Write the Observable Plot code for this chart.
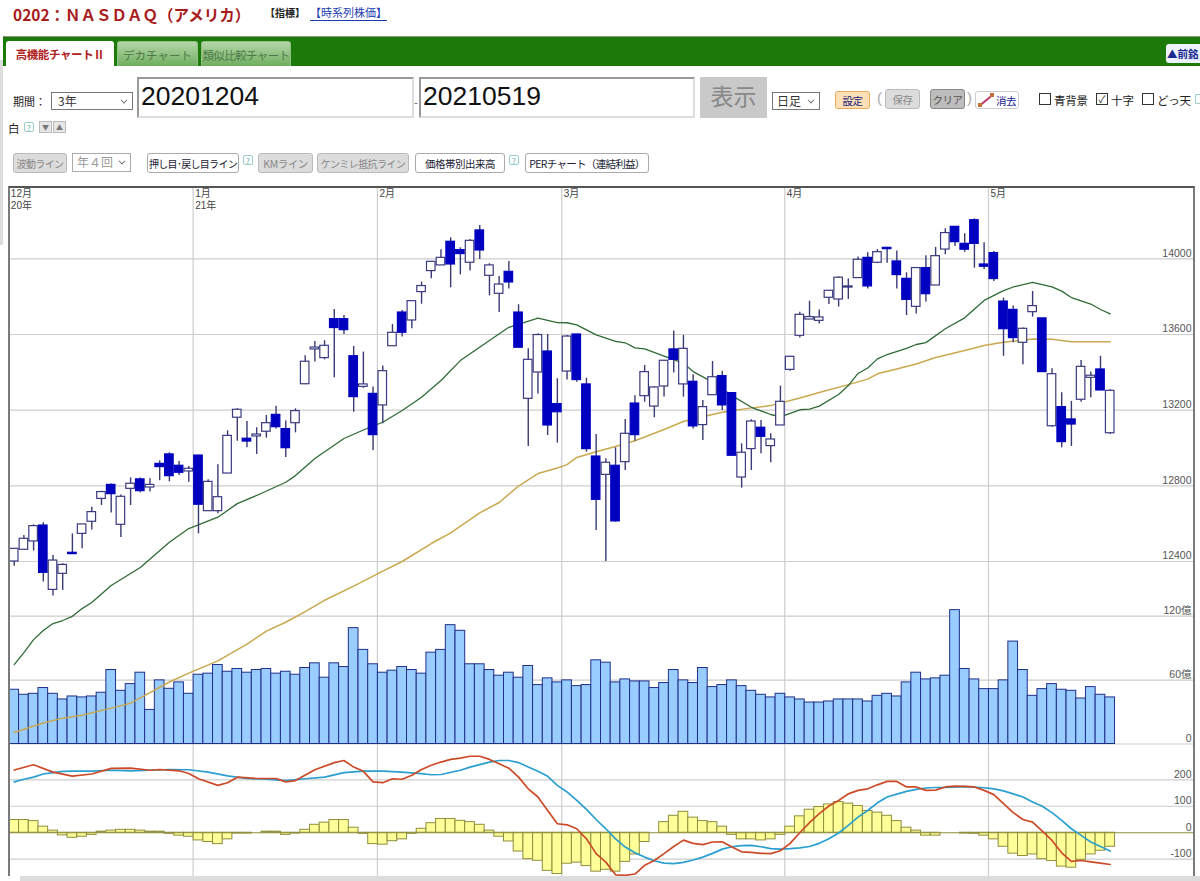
<!DOCTYPE html>
<html lang="ja">
<head>
<meta charset="utf-8">
<script src="https://cdn.jsdelivr.net/npm/d3@7"></script>
<script src="https://cdn.jsdelivr.net/npm/@observablehq/plot@0.6"></script>
<style>
html,body{margin:0;padding:0;background:#fff;width:1200px;height:881px;overflow:hidden;font-family:"Noto Sans CJK JP","Noto Sans",sans-serif;color:#222}
.a{position:absolute;white-space:nowrap;box-sizing:border-box}
.btn{display:flex;align-items:center;justify-content:center;font-size:10.5px;letter-spacing:-.5px;border:1px solid #aaa;border-radius:3px;height:20px;top:153px;background:#fff;color:#223}
.off{background:#dcdcdc;color:#888;border-color:#bbb}
.sel{border:1px solid #777;background:#fff;font-size:12px;line-height:16px;padding-left:6px;color:#333;height:18px}
.sel i{position:absolute;right:5px;top:4px;width:5px;height:5px;border-right:1px solid #666;border-bottom:1px solid #666;transform:rotate(45deg) scale(.8)}
.inp{top:77px;height:41px;border:2px solid;border-color:#999 #ddd #ddd #999;font-family:"Liberation Sans",sans-serif;font-size:26.5px;line-height:35px;color:#111;padding-left:2px;background:#fff}
.chk{width:12px;height:12px;border:1px solid #333;top:93px;font-size:10px;line-height:10px;text-align:center}
.lab{top:92px;font-size:11.5px;line-height:17px;color:#222}
.help{width:10px;height:10px;border:1px solid #9cc;color:#6aa;font-size:8px;line-height:10px;text-align:center;border-radius:2px}
.tab{top:41px;height:25px;font-size:11.5px;line-height:26px;text-align:center;border-radius:3px 3px 0 0}
.gtab{background:linear-gradient(#b5d6a8,#6fae5f);color:#4d7a48;border:1px solid #8fbf82;border-bottom:none}
#frame{position:absolute;left:8px;top:186px;width:1187px;height:690px;border:2px solid #7a7a7a;border-bottom:none;border-top-color:#555;pointer-events:none;box-sizing:border-box}
.layer{position:absolute;left:0}
</style>
</head>
<body>
<div class="a" style="left:0;top:60px;width:3px;height:185px;background:#ddd"></div>
<div class="a" style="left:13px;top:3px;font-size:15.5px;font-weight:700;color:#a81c1c;line-height:22px">0202：ＮＡＳＤＡＱ（アメリカ）</div>
<div class="a" style="left:265px;top:5px;font-size:10px;font-weight:700;line-height:16px">【指標】</div>
<div class="a" style="left:310px;top:5px;font-size:11px;color:#1a3bb0;line-height:15px;border-bottom:1px solid #1a3bb0">【時系列株価】</div>

<div class="a" style="left:3px;top:36px;width:1197px;height:30px;background:#1c7a0a;border-top:1px solid #8a9a80"></div>
<div class="a tab" style="left:6px;width:108px;background:#fff;color:#b02020;font-weight:700;letter-spacing:-.4px">高機能チャートⅡ</div>
<div class="a tab gtab" style="left:117px;width:81px">デカチャート</div>
<div class="a tab gtab" style="left:201px;width:90px;letter-spacing:-.6px">類似比較チャート</div>
<div class="a" style="left:1166px;top:44px;width:34px;height:19px;background:#eef3ff;border-radius:3px 0 0 3px;font-size:10.5px;line-height:19px;color:#1a2a90;font-weight:700;padding-left:1px">▲前銘</div>

<div class="a" style="left:13px;top:92px;font-size:11px;line-height:18px">期間：</div>
<div class="a sel" style="left:51px;top:92px;width:82px">3年<i></i></div>
<div class="a inp" style="left:137px;width:277px">20201204</div>
<div class="a" style="left:414px;top:96px;font-size:11px;line-height:12px;color:#555">-</div>
<div class="a inp" style="left:419px;width:276px">20210519</div>
<div class="a" style="left:700px;top:77px;width:67px;height:41px;background:#c9c9c9;color:#888;font-size:23px;line-height:37px;text-align:center">表示</div>
<div class="a sel" style="left:772px;top:92px;width:48px;padding-left:4px">日足<i></i></div>
<div class="a btn" style="left:835px;top:91px;width:35px;height:18px;background:#fde0b4;border-color:#e8a860;color:#1a1a80">設定</div>
<div class="a" style="left:877px;top:88px;font-size:15px;line-height:20px;color:#aaa;font-family:'Liberation Sans',sans-serif">(</div>
<div class="a btn off" style="left:885px;top:89px;width:35px">保存</div>
<div class="a btn" style="left:930px;top:89px;width:35px;background:#bdbdbd;color:#555;border-color:#888">クリア</div>
<div class="a" style="left:967px;top:88px;font-size:15px;line-height:20px;color:#aaa;font-family:'Liberation Sans',sans-serif">)</div>
<div class="a btn" style="left:975px;top:91px;width:44px;height:18px;justify-content:flex-end;padding-right:2px;color:#1a1a90;border-color:#ccc">消去</div>
<div class="a" style="left:979px;top:99px;width:15px;height:2px;background:#b83a6a;transform:rotate(-40deg)"></div>
<div class="a" style="left:978px;top:103px;width:4px;height:4px;background:#c8703a"></div>
<div class="a" style="left:990px;top:93px;width:4px;height:4px;background:#c8703a"></div>
<div class="a chk" style="left:1039px"></div><div class="a lab" style="left:1054px;letter-spacing:-.3px">青背景</div>
<div class="a chk" style="left:1096px">✓</div><div class="a lab" style="left:1111px">十字</div>
<div class="a chk" style="left:1142px"></div><div class="a lab" style="left:1157px;letter-spacing:-.3px">どっ天</div>
<div class="a" style="left:1195px;top:94px;width:5px;height:10px;border:1px solid #9cc;border-right:none;border-radius:2px 0 0 2px"></div>

<div class="a" style="left:8px;top:120px;font-size:11.5px;line-height:17px">白</div>
<div class="a help" style="left:24px;top:122px">?</div>
<div class="a off" style="left:39px;top:121px;width:13px;height:12px;border:1px solid #bbb;font-size:7px;line-height:10px;text-align:center;color:#777;background:#e6e6e6">▼</div>
<div class="a off" style="left:53px;top:121px;width:13px;height:12px;border:1px solid #bbb;font-size:7px;line-height:10px;text-align:center;color:#777;background:#e6e6e6">▲</div>

<div class="a btn off" style="left:13px;width:54px;font-size:10px;letter-spacing:-.6px">波動ライン</div>
<div class="a sel" style="left:72px;top:153px;width:59px;height:19px;color:#999;border-color:#aaa;padding-left:4px">年４回<i></i></div>
<div class="a btn" style="left:147px;width:92px;font-size:10px;letter-spacing:-.7px">押し目･戻し目ライン</div>
<div class="a help" style="left:243px;top:155px">?</div>
<div class="a btn off" style="left:258px;width:55px">KMライン</div>
<div class="a btn off" style="left:317px;width:92px;font-size:10px;letter-spacing:-.6px">ケンミレ抵抗ライン</div>
<div class="a btn" style="left:415px;width:90px">価格帯別出来高</div>
<div class="a help" style="left:509px;top:155px">?</div>
<div class="a btn" style="left:525px;width:124px;letter-spacing:-.7px">PERチャート（連結利益）</div>

<div id="chart"></div>
<div id="frame"></div>
<div class="a" style="left:20px;top:876px;width:1180px;height:5px;background:#dcdcdc"></div>

<script>
// ---- candlesticks (price points) ----
const opens = [12400,12462,12506,12590,12250,12335,12446,12546,12610,12731,12805,12594,12784,12834,12791,12916,12966,12906,12876,12960,12666,12666,12865,13160,13049,13061,13086,13175,13100,13131,
13337,13521,13475,13681,13681,13485,13323,13286,13225,13538,13716,13674,13824,13935,13965,14090,14046,13979,14150,13910,13815,13931,13716,13260,13399,13510,13232,13404,13600,13336,
12955,12858,12906,12925,13235,13274,13219,13325,13521,13336,13350,13121,13279,13380,13290,12844,12994,13107,13010,13119,13413,13593,13679,13672,13794,13785,13848,13898,14005,13979,
14058,13986,13894,13746,13951,13859,14049,14169,14079,14204,13970,14030,13774,13730,13556,13718,13685,13115,13216,13151,13255,13371,13415,13078];
const closes = [12467,12520,12587,12340,12405,12382,12439,12596,12661,12767,12756,12742,12811,12772,12805,12899,12851,12869,12890,12700,12821,12740,13064,13202,13034,13071,13131,13110,12999,13195,
13456,13531,13540,13634,13623,13269,13336,13068,13406,13609,13609,13776,13856,13984,14005,13970,14025,14095,14044,13965,13864,13875,13530,13466,13597,13119,13189,13589,13359,12994,
12726,12922,12612,13075,13068,13401,13320,13461,13466,13524,13114,13216,13374,13225,12959,12975,13140,13059,13045,13244,13482,13704,13692,13690,13831,13900,13854,13995,13854,14035,
14051,13914,13783,13951,13813,14014,14136,14088,14048,14079,13958,13893,13628,13581,13630,13750,13401,13390,13031,13124,13429,13382,13304,13302];
const highs = [12467,12538,12594,12605,12432,12388,12546,12596,12687,12771,12810,12752,12842,12841,12837,12932,12975,12929,12902,12960,12832,12911,13091,13207,13140,13107,13172,13221,13142,13207,
13487,13563,13567,13732,13700,13537,13507,13322,13433,13653,13727,13776,13877,13984,14048,14111,14058,14102,14176,13974,13907,13986,13757,13524,13604,13600,13366,13595,13600,13369,
13071,12943,13001,13151,13276,13436,13325,13461,13619,13595,13387,13251,13457,13406,13290,13022,13149,13145,13075,13327,13485,13718,13776,13730,13831,13905,13894,14009,14032,14049,
14058,14041,13926,13954,14016,14060,14159,14169,14132,14211,14085,14039,13792,13750,13634,13827,13685,13419,13292,13246,13463,13401,13485,13308];
const lows = [12375,12462,12455,12291,12217,12247,12439,12467,12567,12696,12656,12527,12696,12763,12767,12827,12821,12855,12819,12546,12666,12652,12865,13036,13001,12966,13052,13101,12950,13080,
13334,13454,13466,13371,13600,13189,13315,12987,13128,13537,13586,13630,13760,13894,13965,13847,13915,13935,13996,13804,13716,13840,13530,13008,13286,13066,13026,13360,13348,12978,
12564,12400,12608,12881,13036,13242,13160,13269,13396,13269,13101,13040,13279,13198,12959,12788,12881,12969,12922,13119,13406,13581,13679,13656,13759,13745,13785,13898,13841,13974,
13977,13841,13700,13708,13771,13859,14021,14065,14035,13951,13944,13880,13485,13556,13440,13692,13401,13110,13001,13008,13242,13265,13304,13071];

// ---- moving averages: [session index, price] readings ----
const ma25Index = [0,1,2,3,4,5,6,7,8,10,13,16,18,21,23,25,28,29,31,34,36,38,40,42,44,46,49,51,54,56,57,58,59,60,62,63,64,65,67,69,70,72,74,76,78,79,81,82,83,85,86,87,88,89,90,92,93,94,96,98,100,102,103,105,107,108,109,111,112,113];
const ma25Value = [11855,11918,11987,12035,12072,12088,12110,12151,12183,12273,12368,12502,12574,12634,12706,12749,12819,12854,12944,13050,13095,13136,13198,13268,13357,13462,13568,13638,13686,13663,13662,13651,13624,13598,13564,13556,13529,13524,13485,13448,13404,13348,13277,13215,13177,13165,13202,13205,13221,13283,13330,13394,13423,13471,13494,13527,13547,13557,13630,13688,13780,13832,13851,13875,13852,13829,13795,13761,13732,13709];
const ma75Index = [0,3,5,7,10,12,14,16,18,21,24,26,28,30,32,35,37,38,40,43,45,48,50,52,54,56,57,58,60,62,64,67,69,71,73,76,78,81,83,86,88,89,91,93,95,98,100,102,105,107,109,111,113];
const ma75Value = [11496,11546,11572,11587,11625,11651,11707,11763,11810,11875,11963,12032,12079,12135,12195,12270,12323,12349,12400,12495,12551,12657,12712,12799,12865,12894,12912,12950,12980,13008,13038,13098,13140,13165,13189,13212,13224,13264,13293,13335,13364,13392,13418,13444,13478,13515,13542,13559,13576,13575,13562,13561,13561];

// ---- volume (億) ----
const volume = [50.9,46.2,47.1,52.5,47.1,41.8,44.6,43.7,44.6,48.1,69.4,49.9,56.2,66.9,32,59.7,51.8,57.8,47.1,65,66,74.1,67.8,70.4,66.9,69.4,70.4,66,67.8,65,
71.3,75.7,62.2,75.7,72.2,108.7,88.3,74.8,66.9,68.8,72.2,69.4,66,85.7,88.3,111.5,106.2,74.8,74.8,69.4,64.1,66.9,62.2,73.2,55.3,61.6,57.8,59.7,54.3,55.3,
78.5,76.3,57.8,60.6,58.7,58.7,52.5,57.2,69.4,59.7,57.2,71.3,53.4,55.3,59.7,54.3,49.9,46.2,43.7,47.1,43.7,41.8,38.9,38.9,39.9,41.8,41.8,41.8,39.9,45.2,
47.1,44.6,57.8,66.9,60.6,61.6,64.1,125.6,70.4,60.6,51.5,51.5,59.7,96.1,69.4,45.2,51.5,56.2,50.9,49.9,42.7,53.4,46.2,43.7];

// ---- MACD ----
const macdHist = [48,48,44,23,8,-10,-19,-15,-8,4,8,11,11,8,4,4,-4,-11,-15,-29,-35,-43,-25,-3,-3,0,4,4,-8,-3,
11,30,38,48,48,19,-4,-43,-45,-32,-25,-4,15,36,52,52,45,40,30,8,-15,-33,-71,-100,-106,-144,-156,-117,-113,-126,
-147,-140,-147,-110,-82,-35,0,40,64,79,57,44,40,23,-8,-25,-25,-29,-25,-8,23,62,87,97,107,116,110,101,82,76,
64,44,19,8,-11,-11,0,0,-3,-4,-11,-25,-53,-79,-88,-82,-100,-107,-128,-132,-102,-82,-68,-53];
const macdIndex = [0,2,4,6,8,10,12,14,15,17,18,19,21,22,23,25,27,28,29,31,33,34,35,36,37,38,39,40,41,42,43,44,45,46,47,48,49,50,51,52,53,54,55,56,57,58,59,60,61,62,63,64,65,66,67,68,69,70,71,72,73,74,75,76,77,78,79,80,81,82,83,84,85,86,87,88,89,90,91,92,93,94,95,96,97,98,99,100,101,102,103,104,105,106,107,108,109,110,111,112,113];
const macdLine = [237,257,229,214,222,243,244,236,239,234,224,204,179,189,210,205,205,192,197,238,265,273,248,232,192,189,204,202,217,239,255,267,277,282,289,289,277,261,244,210,166,135,84,34,30,15,-23,-79,-111,-159,-161,-156,-123,-105,-79,-52,-28,-40,-45,-35,-34,-54,-72,-74,-78,-79,-68,-40,0,38,72,101,122,147,160,166,181,194,194,173,173,160,161,173,176,175,173,160,144,110,76,50,40,6,-29,-76,-108,-105,-110,-115,-120];
const signalIndex = [0,1,2,3,4,5,6,8,10,12,14,16,18,20,22,24,26,28,30,32,34,36,38,40,42,43,44,46,47,49,50,51,52,53,54,55,56,57,58,59,60,61,62,63,64,65,66,67,68,69,70,71,72,73,74,75,76,77,78,79,80,81,82,83,84,85,86,87,88,89,90,91,92,93,94,95,96,98,100,101,102,103,104,105,106,107,108,109,110,111,112,113];
const signalLine = [192,202,210,222,227,232,233,233,236,234,236,239,238,229,215,205,202,197,204,210,227,233,233,229,223,219,220,236,248,267,273,273,265,248,232,213,179,154,122,88,50,15,-23,-54,-76,-92,-106,-115,-117,-112,-103,-92,-78,-62,-53,-49,-48,-53,-60,-62,-60,-57,-52,-40,-23,-1,28,59,84,113,135,146,156,164,169,171,171,174,170,166,158,147,135,116,100,76,47,15,-10,-35,-52,-69];

// ---- axes ----
const priceTicks = [14000,13600,13200,12800,12400];
const volumeTicks = [120,60,0];
const macdTicks = [200,100,0,-100];
const monthStarts = [0,19,38,57,80,101];
const monthLabels = ["12月","1月","2月","3月","4月","5月"];
const yearLabels = ["20年","21年"];

const candles = opens.map((o,i)=>({i,o,c:closes[i],h:highs[i],l:lows[i],up:closes[i]>=o}));
const zip = (xs,ys)=>xs.map((x,k)=>({x,y:ys[k]}));
const sessions = [0,113], xRange = [13.7,1109.7];
const W = 1200, gridColor = "#cdcdcd", fontFamily = '"Liberation Sans","Noto Sans CJK JP",sans-serif';
const base = {width:W,marginLeft:9,marginRight:6,marginTop:0,marginBottom:0,
  x:{domain:sessions,range:xRange,axis:null},
  style:{background:"transparent",fontFamily,overflow:"visible"}};
const boundary = monthStarts.map(m=>m-0.55);
const axisText = {frameAnchor:"right",textAnchor:"end",dx:-3,dy:-5.5,fontSize:10.5,fill:"#555"};
const monthText = {frameAnchor:"top",textAnchor:"start",lineAnchor:"top",dx:2,fontSize:10,fill:"#444"};

// volume layer (under the price layer)
const volPlot = Plot.plot({...base,height:558,
  y:{domain:[0,120],range:[557.5,429.6],axis:null},
  marks:[
    Plot.ruleX(boundary.slice(1),{stroke:gridColor,strokeWidth:1.2}),
    Plot.ruleY(volumeTicks,{stroke:gridColor,strokeWidth:1.2}),
    Plot.rect(volume,{x1:(d,i)=>i-0.5,x2:(d,i)=>i+0.5,y1:0,y2:d=>d,fill:"#99ccff",stroke:"#1f2f8a",strokeWidth:1}),
    Plot.text(volumeTicks,{y:d=>d,text:d=>d===0?"0":d+"億",...axisText})
  ]});

// price layer
const pricePlot = Plot.plot({...base,height:558,
  y:{domain:[12400,14000],range:[375,72.3],axis:null},
  marks:[
    Plot.ruleY(priceTicks,{stroke:gridColor,strokeWidth:1.2}),
    Plot.text(priceTicks,{y:d=>d,text:d=>String(d),...axisText}),
    Plot.text(monthLabels,{x:(d,k)=>boundary[k],text:d=>d,dy:3,...monthText}),
    Plot.text(yearLabels,{x:(d,k)=>boundary[k],text:d=>d,dy:15.5,...monthText}),
    Plot.line(zip(ma75Index,ma75Value),{x:"x",y:"y",stroke:"#c9a84e",strokeWidth:1.5}),
    Plot.line(zip(ma25Index,ma25Value),{x:"x",y:"y",stroke:"#2f6b35",strokeWidth:1.3}),
    Plot.ruleX(candles,{x:"i",y1:"l",y2:"h",stroke:"#3a3a74",strokeWidth:1.4}),
    Plot.rect(candles,{x1:d=>d.i-0.44,x2:d=>d.i+0.44,y1:"o",y2:"c",fill:d=>d.up?"#ffffff":"#0000c0",stroke:d=>d.up?"#3a3a80":"#0000c0",strokeWidth:1.2})
  ]});

// MACD layer
const macdPlot = Plot.plot({...base,height:132,
  y:{domain:[-100,200],range:[114.7,35.3],axis:null},
  marks:[
    Plot.ruleX(boundary.slice(1),{stroke:gridColor,strokeWidth:1.2}),
    Plot.ruleY(macdTicks.filter(d=>d!==0),{stroke:gridColor,strokeWidth:1.2}),
    Plot.rect(macdHist.map((v,i)=>({i,v})).filter(d=>d.v!==0),{x1:d=>d.i-0.5,x2:d=>d.i+0.5,y1:0,y2:"v",fill:"#ffff99",stroke:"#8e8e3c",strokeWidth:1,clip:true}),
    Plot.ruleY([0],{stroke:"#8e8e3c",strokeWidth:1.2}),
    Plot.text(macdTicks,{y:d=>d,text:d=>String(d),...axisText}),
    Plot.line(zip(signalIndex,signalLine),{x:"x",y:"y",stroke:"#2a9fd0",strokeWidth:1.7,clip:true}),
    Plot.line(zip(macdIndex,macdLine),{x:"x",y:"y",stroke:"#cc4a28",strokeWidth:1.7,clip:true})
  ]});

const host = document.getElementById("chart");
[[volPlot,186],[pricePlot,186],[macdPlot,744]].forEach(([svg,top])=>{
  svg.classList.add("layer"); svg.style.top = top+"px"; host.appendChild(svg);
});
</script>
</body>
</html>
